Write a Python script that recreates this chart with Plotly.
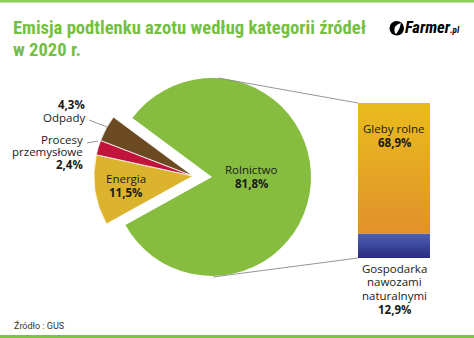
import plotly.graph_objects as go

W, H = 474, 338

# Nitrous oxide emission shares by source category, 2020 (%)
categories = ["Rolnictwo", "Energia", "Procesy przemysłowe", "Odpady"]
shares = [81.8, 11.5, 2.4, 4.3]
colors = ["#86bd3f", "#dcb32c", "#c2133b", "#6b4a22"]

# Split of the agriculture share (%), bottom to top of the column
agri_parts = ["Gospodarka nawozami naturalnymi", "Gleby rolne"]
agri_shares = [12.9, 68.9]
agri_gradients = [
    [[0, "#2a2b80"], [1, "#4d61b6"]],
    [[0, "#e2912b"], [1, "#e9bc1d"]],
]

title_lines = ["Emisja podtlenku azotu według kategorii źródeł", "w 2020 r."]
source_text = "Źródło : GUS"

GREEN = "#74bf42"
LABEL_FONT = "Open Sans"
TITLE_FONT = "Roboto Condensed, Roboto"


def pct(v):
    return f"{v:.1f}%".replace(".", ",")


def px_x(x):
    return x / W


def px_y(y):
    return (H - y) / H


def pie_domain(cx, cy, r):
    return dict(x=[px_x(cx - r), px_x(cx + r)], y=[px_y(cy + r), px_y(cy - r)])


R = 99
ROT = -53.5
clear = "rgba(0,0,0,0)"

fig = go.Figure()

# Agriculture wedge, centred
fig.add_trace(go.Pie(
    values=shares, labels=categories, sort=False, direction="clockwise",
    rotation=ROT, textinfo="none", hoverinfo="label+percent",
    marker=dict(colors=[colors[0]] + [clear] * 3, line=dict(width=0)),
    domain=pie_domain(212, 177, R), showlegend=False,
))
# Remaining sources, pulled out together to the left
fig.add_trace(go.Pie(
    values=shares, labels=categories, sort=False, direction="clockwise",
    rotation=ROT, textinfo="none", hoverinfo="label+percent",
    marker=dict(colors=[clear] + colors[1:],
                line=dict(color="white", width=[0, 0.8, 0.8, 0.8])),
    domain=pie_domain(193, 176, R), showlegend=False,
))

# Stacked column for the agriculture breakdown
base = 0.0
for name, val, cs in zip(agri_parts, agri_shares, agri_gradients):
    top = base + val
    fig.add_trace(go.Scatter(
        x=[0, 1, 1, 0, 0], y=[base, base, top, top, base],
        mode="lines", line=dict(width=0), fill="toself",
        fillgradient=dict(type="vertical", colorscale=cs),
        xaxis="x", yaxis="y", name=name, showlegend=False,
        hoverinfo="name",
    ))
    base = top
agri_total = base

fig.update_layout(
    width=W, height=H,
    margin=dict(l=0, r=0, t=0, b=0),
    paper_bgcolor="white", plot_bgcolor="rgba(0,0,0,0)",
    xaxis=dict(domain=[px_x(358), px_x(430)], range=[0, 1], visible=False, fixedrange=True),
    yaxis=dict(domain=[px_y(258), px_y(103)], range=[0, agri_total], visible=False, fixedrange=True),
)

annotations = []


def text_at(text, x, y, size, family, color, xanchor="center"):
    annotations.append(dict(
        text=text, x=px_x(x), y=px_y(y), xref="paper", yref="paper",
        xanchor=xanchor, yanchor="middle", showarrow=False, borderpad=0,
        font=dict(family=family, size=size, color=color),
    ))


def block(lines, x, y0, step=13.3, size=11.5, xanchor="center", color="#1a1a1a"):
    for i, ln in enumerate(lines):
        text_at(ln, x, y0 + i * step, size, LABEL_FONT, color, xanchor)


# Title and source
for i, ln in enumerate(title_lines):
    text_at(f"<b>{ln}</b>", 12, 28 + i * 22, 18.6, TITLE_FONT, GREEN, "left")
text_at(source_text, 13, 325, 9, "Roboto", "#333333", "left")

# Logo wordmark
text_at("<b><i>Farmer</i></b><span style='font-size:9px'><b><i>.pl</i></b></span>",
        404, 28, 16.5, TITLE_FONT, "black", "left")

# Pie labels
block([categories[0], f"<b>{pct(shares[0])}</b>"], 251, 169, step=14.5)
block([categories[1], f"<b>{pct(shares[1])}</b>"], 126, 179, step=14)
block([f"<b>{pct(shares[3])}</b>", categories[3]], 86, 104, xanchor="right")
block(["Procesy", "przemysłowe", f"<b>{pct(shares[2])}</b>"], 84, 139, step=12.8,
      xanchor="right")

# Column labels
block([agri_parts[1], f"<b>{pct(agri_shares[1])}</b>"], 394, 128, step=14)
block(["Gospodarka", "nawozami", "naturalnymi", f"<b>{pct(agri_shares[0])}</b>"],
      394, 268, step=13.7)

fig.update_layout(annotations=annotations)

shapes = [
    # frame lines
    dict(type="rect", xref="paper", yref="paper", x0=0, x1=1, y0=px_y(2.5), y1=1,
         fillcolor="#8cd05a", line=dict(width=0)),
    dict(type="rect", xref="paper", yref="paper", x0=0, x1=1, y0=0, y1=px_y(335),
         fillcolor="#7cc243", line=dict(width=0)),
    # connectors from the agriculture wedge to the column
    dict(type="line", xref="paper", yref="paper", x0=px_x(218), y0=px_y(78),
         x1=px_x(358), y1=px_y(103), line=dict(color="#8a8a8a", width=0.9)),
    dict(type="line", xref="paper", yref="paper", x0=px_x(213), y0=px_y(277),
         x1=px_x(358), y1=px_y(258), line=dict(color="#8a8a8a", width=0.9)),
    # leader lines
    dict(type="line", xref="paper", yref="paper", x0=px_x(89), y0=px_y(120),
         x1=px_x(107), y1=px_y(127), line=dict(color="#8a8a8a", width=0.9)),
    dict(type="line", xref="paper", yref="paper", x0=px_x(87), y0=px_y(143),
         x1=px_x(98), y1=px_y(141), line=dict(color="#8a8a8a", width=0.9)),
    # logo badge
    dict(type="circle", xref="paper", yref="paper", x0=px_x(389.5), x1=px_x(404),
         y0=px_y(35.5), y1=px_y(21), fillcolor="black", line=dict(width=0)),
    dict(type="path", xref="paper", yref="paper",
         path=(f"M {px_x(395)} {px_y(33.5)} Q {px_x(392.5)} {px_y(25)} {px_x(401)} {px_y(23)} "
               f"Q {px_x(400)} {px_y(29)} {px_x(396.5)} {px_y(33.5)} Z"),
         fillcolor="white", line=dict(width=0)),
]
fig.update_layout(shapes=shapes)

fig.write_html("out.html")
